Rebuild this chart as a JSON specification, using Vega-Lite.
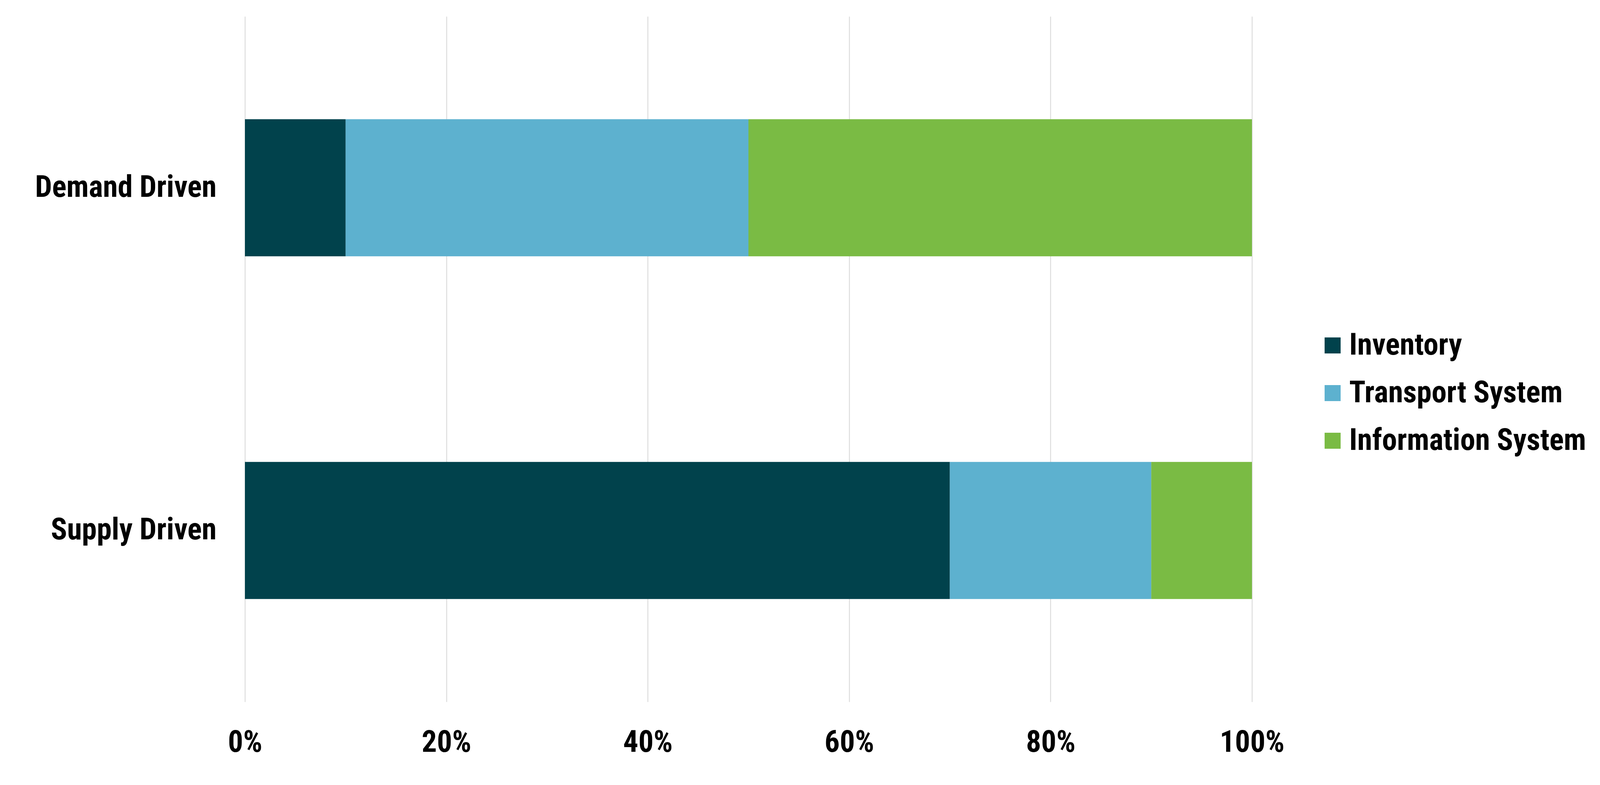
{
  "$schema": "https://vega.github.io/schema/vega-lite/v6.json",
  "description": "Share of Inventory, Transport System and Information System in demand driven and supply driven chains",
  "width": 2578,
  "height": 1755,
  "autosize": "none",
  "padding": {"left": 627, "top": 42, "right": 1085, "bottom": 213},
  "background": "white",
  "config": {
    "view": {"stroke": null},
    "font": "Roboto Condensed, Liberation Sans Narrow, Liberation Sans"
  },
  "data": {
    "values": [
      {"Driver": "Demand Driven", "Component": "Inventory", "Share": 10},
      {"Driver": "Demand Driven", "Component": "Transport System", "Share": 40},
      {"Driver": "Demand Driven", "Component": "Information System", "Share": 50},
      {"Driver": "Supply Driven", "Component": "Inventory", "Share": 70},
      {"Driver": "Supply Driven", "Component": "Transport System", "Share": 20},
      {"Driver": "Supply Driven", "Component": "Information System", "Share": 10}
    ]
  },
  "transform": [
    {"calculate": "indexof(['Inventory', 'Transport System', 'Information System'], datum.Component)", "as": "stackOrder"}
  ],
  "mark": {"type": "bar"},
  "encoding": {
    "y": {
      "field": "Driver",
      "type": "nominal",
      "sort": ["Demand Driven", "Supply Driven"],
      "scale": {"paddingInner": 0.6, "paddingOuter": 0.3},
      "axis": {
        "title": null,
        "domain": false,
        "ticks": false,
        "labelFontSize": 77,
        "labelFontWeight": "bold",
        "labelColor": "black",
        "labelPadding": 73,
        "labelAlign": "right",
        "labelLimit": 2000
      }
    },
    "x": {
      "field": "Share",
      "type": "quantitative",
      "stack": "normalize",
      "scale": {"domain": [0, 1]},
      "axis": {
        "title": null,
        "format": ".0%",
        "values": [0, 0.2, 0.4, 0.6, 0.8, 1],
        "domain": false,
        "ticks": false,
        "grid": true,
        "gridColor": "#d9d9d9",
        "gridWidth": 2.2,
        "labelFontSize": 77,
        "labelFontWeight": "bold",
        "labelColor": "black",
        "labelPadding": 66,
        "labelFlush": false,
        "labelLimit": 2000
      }
    },
    "color": {
      "field": "Component",
      "type": "nominal",
      "scale": {
        "domain": ["Inventory", "Transport System", "Information System"],
        "range": ["#01424c", "#5db1cf", "#7abb44"]
      },
      "legend": {
        "title": null,
        "orient": "none",
        "legendX": 2746,
        "legendY": 804,
        "symbolType": "square",
        "symbolSize": 1681,
        "symbolStrokeWidth": 0,
        "labelFontSize": 77,
        "labelFontWeight": "bold",
        "labelColor": "black",
        "labelOffset": 4,
        "rowPadding": 44,
        "padding": 0,
        "labelLimit": 2000
      }
    },
    "order": {"field": "stackOrder", "type": "quantitative"}
  }
}
